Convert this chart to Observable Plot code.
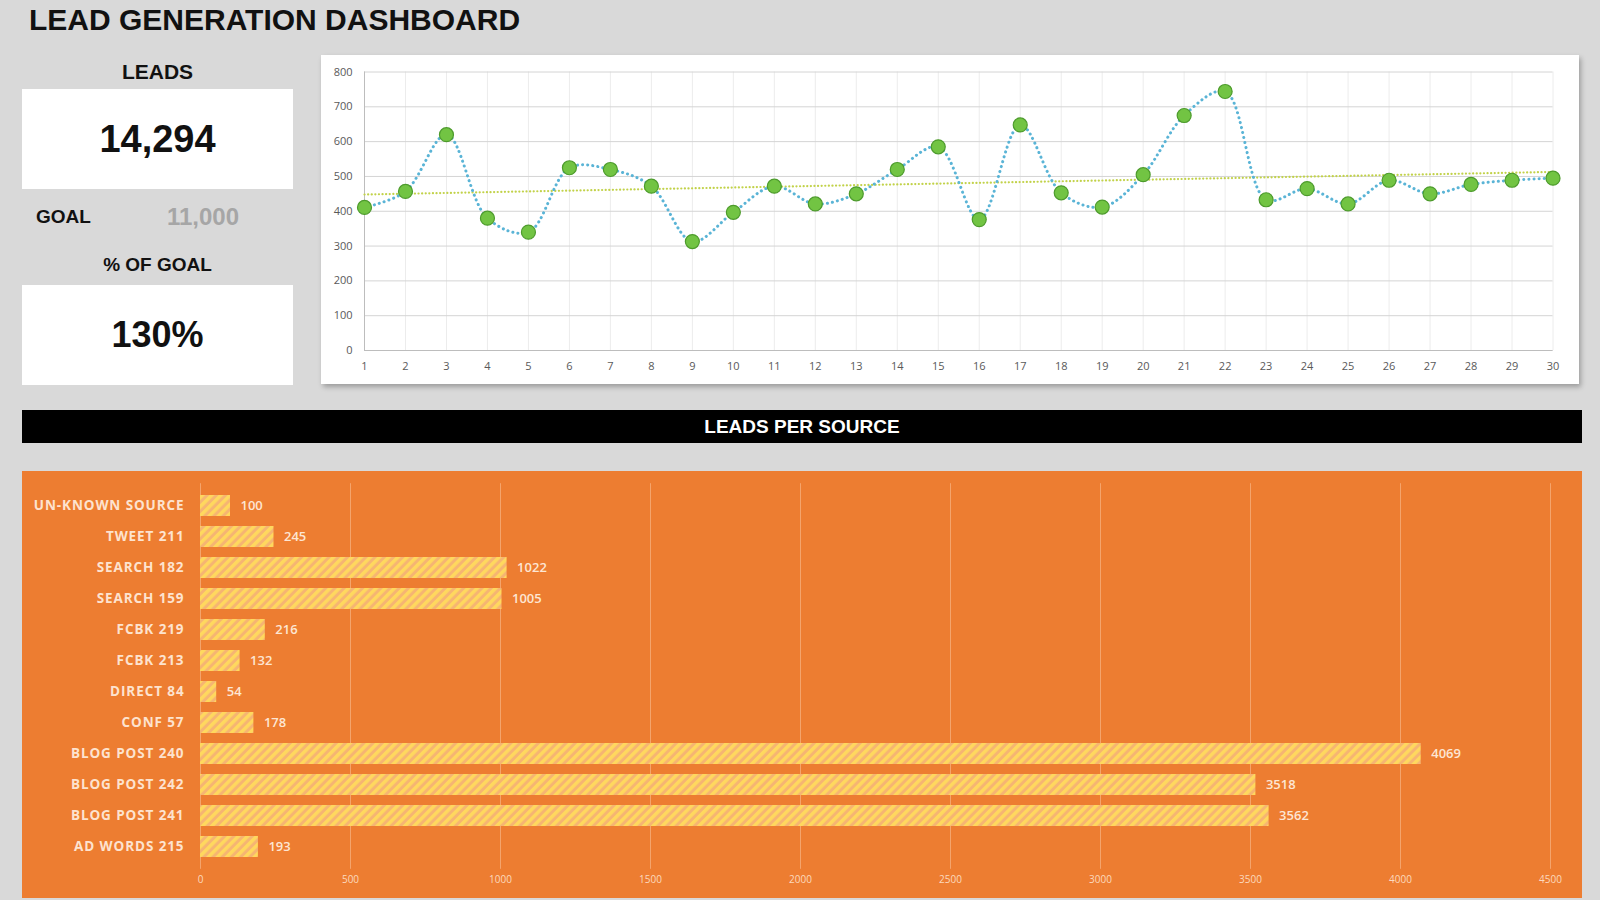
<!DOCTYPE html>
<html><head><meta charset="utf-8">
<script src="https://cdn.jsdelivr.net/npm/d3@7"></script>
<script src="https://cdn.jsdelivr.net/npm/@observablehq/plot@0.6"></script>
<style>
body{margin:0;background:#d9d9d9;width:1600px;height:900px;position:relative;overflow:hidden;font-family:"Liberation Sans",Arial,sans-serif;}
.abs{position:absolute;}
#title{left:29px;top:4px;font-size:30px;font-weight:bold;color:#111;line-height:32px;white-space:nowrap;}
.lbl{left:22px;width:271px;text-align:center;font-weight:bold;color:#111;}
.box{left:22px;width:271px;height:100px;background:#fff;display:flex;align-items:center;justify-content:center;font-weight:bold;color:#111;}
#card{left:321px;top:55px;width:1258px;height:329px;background:#fff;box-shadow:2px 3px 5px rgba(0,0,0,0.28);}
#band{left:22px;top:410px;width:1560px;height:33px;background:#000;color:#fff;font-weight:bold;font-size:19px;line-height:33px;text-align:center;}
#panel{left:22px;top:471px;width:1560px;height:427px;background:#ED7D31;}
#panel svg [aria-label="y-axis tick label"] text{letter-spacing:0.9px;}
</style></head><body>
<div id="title" class="abs">LEAD GENERATION DASHBOARD</div>
<div class="abs lbl" style="top:60px;font-size:21px;line-height:24px;">LEADS</div>
<div id="leadsBox" class="abs box" style="top:89px;font-size:38px;"></div>
<div class="abs" style="left:36px;top:206px;font-size:19px;line-height:22px;font-weight:bold;color:#111;">GOAL</div>
<div id="goalVal" class="abs" style="left:143px;width:120px;text-align:center;top:203px;font-size:24px;line-height:28px;font-weight:bold;color:#a6a6a6;"></div>
<div class="abs lbl" style="top:254px;font-size:19px;line-height:22px;">% OF GOAL</div>
<div id="pctBox" class="abs box" style="top:285px;font-size:36px;"></div>
<div id="card" class="abs"></div>
<div id="band" class="abs">LEADS PER SOURCE</div>
<div id="panel" class="abs"></div>
<script>
// ---- data ----
const days = [1,2,3,4,5,6,7,8,9,10,11,12,13,14,15,16,17,18,19,20,21,22,23,24,25,26,27,28,29,30];
const dailyLeads = [411,457,620,380,340,525,520,472,313,397,472,421,450,520,585,376,648,453,412,505,675,744,433,465,421,489,450,477,489,495];
const leadTicks = [0,100,200,300,400,500,600,700,800];

const sources = ["UN-KNOWN SOURCE","TWEET 211","SEARCH 182","SEARCH 159","FCBK 219","FCBK 213","DIRECT 84","CONF 57","BLOG POST 240","BLOG POST 242","BLOG POST 241","AD WORDS 215"];
const sourceLeads = [100,245,1022,1005,216,132,54,178,4069,3518,3562,193];
const sourceTicks = [0,500,1000,1500,2000,2500,3000,3500,4000,4500];

const totalLeads = "14,294";
const goal = "11,000";
const pctOfGoal = "130%";

document.getElementById("leadsBox").textContent = totalLeads;
document.getElementById("goalVal").textContent = goal;
document.getElementById("pctBox").textContent = pctOfGoal;

// ---- line chart ----
const lineData = days.map((d, i) => ({day: d, leads: dailyLeads[i]}));
const lineChart = Plot.plot({
  width: 1258, height: 329,
  marginLeft: 43, marginRight: 26.5, marginTop: 16.5, marginBottom: 34,
  style: {background: "transparent", fontFamily: "'Open Sans', sans-serif", fontSize: "11px", color: "#595959"},
  x: {domain: [1, 30], label: null},
  y: {domain: [0, 800], label: null},
  marks: [
    Plot.gridX(days, {stroke: "#ececec", strokeOpacity: 1}),
    Plot.gridY(leadTicks, {stroke: "#d4d4d4", strokeOpacity: 1}),
    Plot.ruleX([1], {stroke: "#bdbdbd"}),
    Plot.ruleY([0], {stroke: "#bdbdbd"}),
    Plot.axisX(days, {tickSize: 0, tickPadding: 12, label: null, tickFormat: d => String(d)}),
    Plot.axisY(leadTicks, {tickSize: 0, tickPadding: 12, label: null}),
    Plot.linearRegressionY(lineData, {x: "day", y: "leads", stroke: "#c2d24a", strokeWidth: 2.2, strokeDasharray: "0.1,3.5", strokeLinecap: "round", ci: 0}),
    Plot.line(lineData, {x: "day", y: "leads", curve: "catmull-rom", stroke: "#5ab4d6", strokeWidth: 3, strokeDasharray: "0.1,5", strokeLinecap: "round"}),
    Plot.dot(lineData, {x: "day", y: "leads", r: 7, fill: "#72c443", stroke: "#4d9b2c", strokeWidth: 1.2})
  ]
});
document.getElementById("card").appendChild(lineChart);

// ---- bar chart ----
const barData = sources.map((s, i) => ({source: s, value: sourceLeads[i]}));
const barChart = Plot.plot({
  width: 1560, height: 427,
  marginLeft: 178, marginRight: 32, marginTop: 12.2, marginBottom: 29.2,
  style: {background: "transparent", fontFamily: "'Open Sans', sans-serif", color: "#fde3cf"},
  x: {domain: [0, 4500], label: null},
  y: {domain: sources, padding: 0.32, label: null},
  marks: [
    Plot.gridX(sourceTicks, {stroke: "#f4a46c", strokeOpacity: 1}),
    Plot.barX(barData, {x: "value", y: "source", fill: "url(#hatch)"}),
    Plot.text(barData, {x: "value", y: "source", text: d => String(d.value), dx: 10, textAnchor: "start", fill: "#fde6d3", fontSize: 13, fontWeight: 600}),
    Plot.axisY({tickSize: 0, tickPadding: 16, fontSize: 13.5, fontWeight: 700, fill: "#fde3cf", label: null}),
    Plot.axisX(sourceTicks, {tickSize: 0, tickPadding: 7, fontSize: 10, fill: "#fcd9be", label: null, tickFormat: d => String(d)})
  ]
});
const defs = document.createElementNS("http://www.w3.org/2000/svg", "defs");
defs.innerHTML = '<pattern id="hatch" patternUnits="userSpaceOnUse" width="6.5" height="6.5" patternTransform="rotate(45)"><rect width="6.5" height="6.5" fill="#f6b572"/><rect width="3.5" height="6.5" fill="#ffd85e"/></pattern>';
barChart.insertBefore(defs, barChart.firstChild);
document.getElementById("panel").appendChild(barChart);
</script>
</body></html>
